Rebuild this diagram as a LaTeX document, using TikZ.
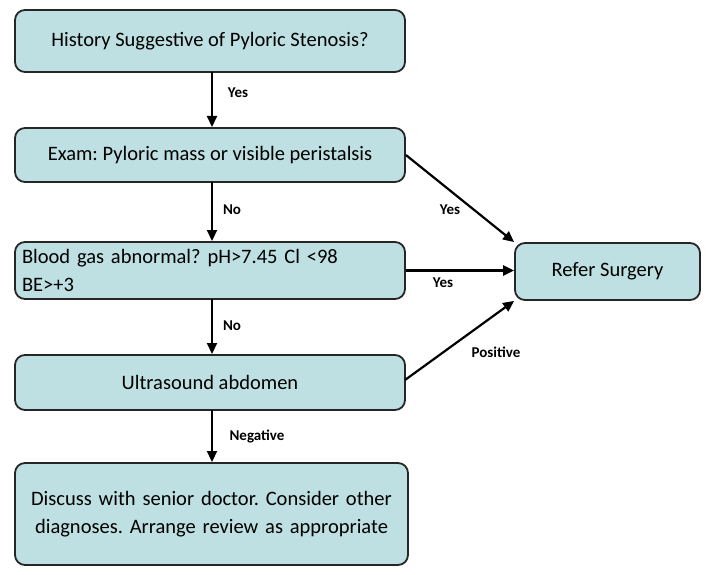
\documentclass[tikz,border=0pt]{standalone}
\usepackage{fontspec}
\setmainfont{Carlito}
\usetikzlibrary{arrows.meta}
\begin{document}
\frenchspacing
\begin{tikzpicture}[x=1pt,y=-1pt,
  box/.style={draw=black!85,line width=1.8pt,fill=boxc,rounded corners=10pt,font=\fontsize{20.5}{28}\selectfont},
  arr/.style={-{Triangle[length=11pt,width=10pt]},line width=2.2pt},
  lab/.style={font=\bfseries\fontsize{15}{17}\selectfont}]
\definecolor{boxc}{HTML}{BEE0E2}
\useasboundingbox (0,0) rectangle (715,575);
\node[box,minimum width=390,minimum height=62] (b1) at (210,41) {History Suggestive of Pyloric Stenosis?};
\node[box,minimum width=390,minimum height=54] (b2) at (210,155) {Exam: Pyloric mass or visible peristalsis};
\node[box,minimum width=390,minimum height=57,text width=376,align=left,inner sep=2pt] (b3) at (210,270.5) {Blood gas abnormal? pH>7.45 Cl <98\\BE>+3};
\node[box,minimum width=390,minimum height=55] (b4) at (210,382.5) {Ultrasound abdomen};
\node[box,minimum width=393,minimum height=102,text width=380,align=center] (b5) at (211.5,514) {Discuss with senior doctor. Consider other diagnoses. Arrange review as appropriate};
\node[box,minimum width=185,minimum height=57] (rs) at (607.5,271.5) {Refer Surgery};
\draw[arr] (212,72) -- (212,127) coordinate (e1);
\draw[arr] (212,182) -- (212,241);
\draw[arr] (212,299) -- (212,354);
\draw[arr] (212,410) -- (212,462);
\draw[arr] (b2.east) -- (rs.north west);
\draw[arr] (b3.east) -- (rs.west |- b3.east);
\draw[arr] (405,380) -- (rs.south west);
\node[lab] (l1) at (238,93) {Yes};
\node[lab] (l2) at (232,210) {No};
\node[lab] (l3) at (450,210) {Yes};
\node[lab] (l4) at (443,283) {Yes};
\node[lab] (l5) at (232,326) {No};
\node[lab] (l6) at (496,352) {Positive};
\node[lab] (l7) at (257,436) {Negative};
\end{tikzpicture}
\end{document}
